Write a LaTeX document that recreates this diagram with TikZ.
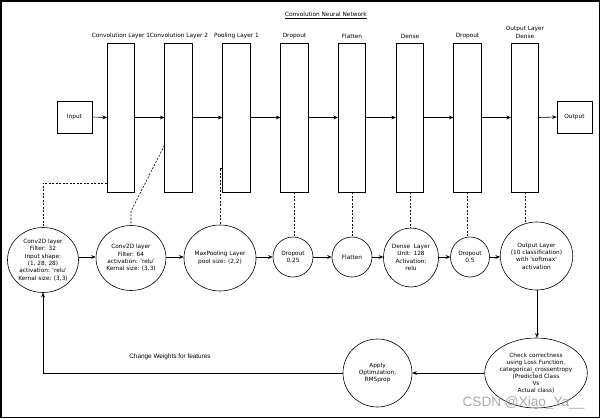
\documentclass[tikz,border=0pt]{standalone}
\usepackage{fontspec}
\newfontfamily\dejavu{DejaVu Sans}
\newfontfamily\arialf{Liberation Sans}
\usetikzlibrary{shapes.geometric,arrows.meta,calc}
\begin{document}
\begin{tikzpicture}[x=1pt,y=-1pt,
  txt/.style={font=\dejavu\fontsize{5.8}{7.3}\selectfont,align=center,inner sep=0},
  col/.style={draw,line width=0.7pt,minimum width=27.5pt,minimum height=149pt,inner sep=0},
  sbox/.style={draw,line width=0.7pt,minimum width=35pt,minimum height=32pt,inner sep=0,txt},
  circ/.style={draw,ellipse,line width=0.6pt,inner sep=0,txt},
  arr/.style={line width=0.6pt,-{Stealth[length=4.5pt,width=3.8pt]}},
  dsh/.style={line width=0.6pt,dash pattern=on 2pt off 1.5pt}]
\useasboundingbox (0,0) rectangle (600,418);
\draw[line width=1.5pt] (0.75,0.75) rectangle (599.25,417.25);

\node[txt] (title) at (326,15.5) {\underline{Convolution Neural Network}};

% columns
\node[col] (col1) at (121,117.5) {};
\node[col] (col2) at (178.5,117.5) {};
\node[col] (col3) at (236.5,117.5) {};
\node[col] (col4) at (294.5,117.5) {};
\node[col] (col5) at (352,117.5) {};
\node[col] (col6) at (410,117.5) {};
\node[col] (col7) at (467.5,117.5) {};
\node[col] (col8) at (525,117.5) {};

\node[txt] (lab1) at (121,36) {Convolution Layer 1};
\node[txt] (lab2) at (179,36) {Convolution Layer 2};
\node[txt] (lab3) at (236.5,36) {Pooling Layer 1};
\node[txt] (lab4) at (294.5,36) {Dropout};
\node[txt] (lab5) at (352,36) {Flatten};
\node[txt] (lab6) at (410,36) {Dense};
\node[txt] (lab7) at (467.5,36) {Dropout};
\node[txt] (lab8) at (525,32.5) {Output Layer\\Dense};

\node[sbox] (in) at (74.5,117) {Input};
\node[sbox] (out) at (574.5,117) {Output};

\draw[arr] (in.east) -- (col1.west);
\draw[arr] (col1.east) -- (col2.west);
\draw[arr] (col2.east) -- (col3.west);
\draw[arr] (col3.east) -- (col4.west);
\draw[arr] (col4.east) -- (col5.west);
\draw[arr] (col5.east) -- (col6.west);
\draw[arr] (col6.east) -- (col7.west);
\draw[arr] (col7.east) -- (col8.west);
\draw[arr] (col8.east) -- (out.west);

% circles row
\node[circ,minimum width=71pt,minimum height=65pt] (e1) at (43,260) {Conv2D layer\\Filter: 32\\Input shape:\\(1, 28, 28)\\activation: 'relu'\\Kernal size: (3,3)};
\node[circ,minimum width=68pt,minimum height=65pt] (e2) at (131,258) {Conv2D layer\\Filter: 64\\activation: 'relu'\\Kernal size: (3,3)};
\node[circ,minimum width=68pt,minimum height=66pt] (e3) at (220,258) {MaxPooling Layer\\pool size: (2,2)};
\node[circ,minimum width=40pt,minimum height=40pt] (e4) at (293,257) {Dropout\\0.25};
\node[circ,minimum width=40pt,minimum height=40pt] (e5) at (352,257) {Flatten};
\node[circ,minimum width=55pt,minimum height=59pt] (e6) at (411,257.5) {Dense~ Layer\\Unit: 128\\Activation:\\relu};
\node[circ,minimum width=39pt,minimum height=40pt] (e7) at (470,257) {Dropout\\0.5};
\node[circ,minimum width=69pt,minimum height=68pt] (e8) at (536.5,256) {Output Layer\\(10 classification)\\with 'softmax'\\activation};

\draw[arr] (e1.east |- 0,257) -- (e2.west |- 0,257);
\draw[arr] (e2.east |- 0,257) -- (e3.west |- 0,257);
\draw[arr] (e3.east |- 0,257) -- (e4.west);
\draw[arr] (e4.east) -- (e5.west);
\draw[arr] (e5.east) -- (e6.west |- e5.east);
\draw[arr] (e6.east |- e7.west) -- (e7.west);
\draw[arr] (e7.east) -- (e8.west |- e7.east);

% dashed links
\draw[dsh] ($(col1.south west)+(0,-9)$) -| (e1.north);
\coordinate (k2) at ($(e2.north)+(0,-14)$);
\draw[dsh] ($(col2.south west)+(0,-47)$) -- (k2) -- (e2.north);
\draw[dsh] ($(col3.south west)+(0,-24)$) -| (e3.north);
\draw[dsh] (col4.south) -- (col4.south |- e4.north);
\draw[dsh] (col5.south) -- (e5.north);
\draw[dsh] (col6.south) -- (col6.south |- e6.north);
\draw[dsh] (col7.south) -- (col7.south |- e7.north);
\draw[dsh] (col8.south) -- (col8.south |- e8.110);

% bottom loop
\node[circ,minimum width=78pt,minimum height=70pt,font=\dejavu\fontsize{5.8}{7.1}\selectfont] (ch) at (536,373) {Check correctness\\using Loss Function,\\categorical\_crossentropy\\(Predicted Class\\Vs\\Actual class)};
\node[circ,minimum width=69pt,minimum height=68pt] (ap) at (377.5,373) {Apply\\Optimzation,\\RMSprop};

\draw[arr] (e8.south -| 537,0) -- (ch.north -| 537,0);
\draw[arr] (ch.west) -- (ap.east);
\draw[arr] (ap.west) -- (ap.west -| e1.south) -- (e1.south);
\node[font=\arialf\fontsize{6.4}{7.5}\selectfont,inner sep=0] (cw) at (170,357) {Change Weights for features};

% watermark
\node[font=\arialf\fontsize{13.6}{15}\selectfont,text=black!40,opacity=0.85,inner sep=0] (wm) at (523.5,403) {CSDN @Xiao\_Ya\_\_};
\end{tikzpicture}
\end{document}
